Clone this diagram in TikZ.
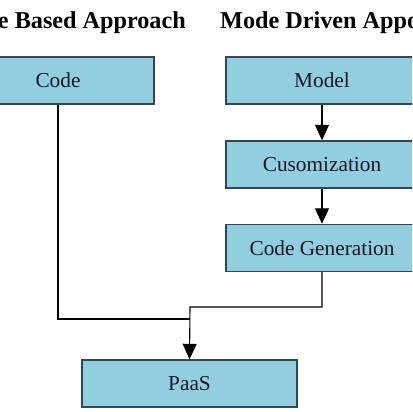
\documentclass[tikz,border=0pt]{standalone}
\usepackage{fontspec}
\setmainfont{Liberation Serif}
\usetikzlibrary{arrows.meta}
\definecolor{boxfill}{RGB}{146,205,224}
\definecolor{boxline}{RGB}{47,72,84}
\definecolor{boxtext}{RGB}{20,24,36}
\begin{document}
\begin{tikzpicture}[x=1pt,y=-1pt,
  stepbox/.style={draw=boxline,line width=1.4pt,fill=boxfill,rectangle,minimum width=192pt,minimum height=47pt,inner sep=0pt,text=boxtext,font=\fontsize{21.3}{25}\selectfont},
  ttl/.style={font=\bfseries\fontsize{24.2}{28}\selectfont,inner sep=0pt,anchor=base},
  conn/.style={line width=1.1pt,draw=black},
  arr/.style={conn,-{Triangle[width=14pt,length=15.5pt]}}]
\useasboundingbox (0,0) rectangle (412,412);
\clip (0,0) rectangle (412,412);
\fill[white] (0,0) rectangle (412,412);
\node[ttl,anchor=base east] (t1) at (186,29) {Code Based Approach};
\node[ttl,anchor=base west] (t2) at (220,29) {Mode Driven Appoach};
\node[stepbox] (code) at (58,80.5) {Code};
\node[stepbox] (model) at (322,80.5) {Model};
\node[stepbox] (cus) at (322,164.5) {Cusomization};
\node[stepbox] (cg) at (322,248) {Code Generation};
\node[stepbox,minimum width=215pt] (paas) at (189.5,383.5) {PaaS};
\coordinate (m) at (190,307);
\coordinate (j) at (190,319);
\draw[arr] (model) -- (cus);
\draw[arr] (cus) -- (cg);
\draw[conn] (code.south) |- (j);
\draw[arr] (cg.south) |- (m) -- (paas.north);
\end{tikzpicture}
\end{document}
